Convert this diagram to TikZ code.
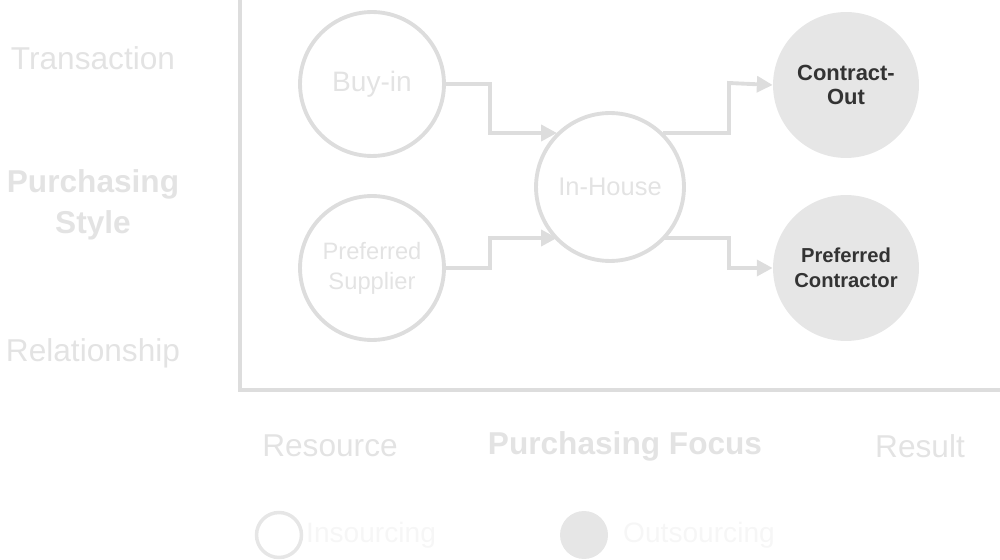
\documentclass[tikz,border=0pt]{standalone}
\usepackage{fontspec}
\setmainfont{Liberation Sans}
\usetikzlibrary{arrows.meta}
\definecolor{ln}{HTML}{DDDDDD}
\definecolor{fl}{HTML}{E6E6E6}
\definecolor{tx}{HTML}{E3E3E3}
\definecolor{lg}{HTML}{F6F6F6}
\begin{document}
\begin{tikzpicture}[x=0.02cm,y=-0.02cm,
  incirc/.style={circle,draw=ln,line width=2.2pt,minimum size=#1*0.04cm,inner sep=0pt,align=center,text=tx},
  outcirc/.style={circle,fill=fl,minimum size=#1*0.04cm,inner sep=0pt,align=center,text=black!80,font=\bfseries\fontsize{12.5}{14}\selectfont},
  conn/.style={draw=ln,line width=2.2pt,-{Triangle[length=9pt,width=9pt]}},
  axlab/.style={text=tx,font=\fontsize{18}{21}\selectfont}]
\useasboundingbox (0,0) rectangle (1000,560);
\draw[ln,line width=2.4pt] (240,0) -- (240,390) -- (1000,390);
\node[axlab] (t1) at (93,58) {Transaction};
\node[axlab,font=\bfseries\fontsize{18}{23}\selectfont,align=center] (t2) at (93,205) {Purchasing\\Style};
\node[axlab] (t3) at (93,353) {Relationship};
\node[axlab] (b1) at (330,446) {Resource};
\node[axlab,font=\bfseries\fontsize{18}{21}\selectfont] (b2) at (625,446) {Purchasing Focus};
\node[axlab] (b3) at (920,446) {Result};
\node[incirc=72,font=\fontsize{16}{19}\selectfont] (buy) at (372,84) {Buy-in};
\node[incirc=72,font=\fontsize{13.5}{17}\selectfont] (ps) at (372,268) {Preferred\\Supplier};
\node[incirc=74,font=\fontsize{14.5}{17}\selectfont] (ih) at (610,187) {In-House};
\node[outcirc=73] (co) at (846,85) {Contract-\\Out};
\node[outcirc=73,font=\bfseries\fontsize{11.5}{14}\selectfont] (pc) at (846,268) {Preferred\\Contractor};
\coordinate (ihA) at (557,133); \coordinate (ihB) at (557,238);
\coordinate (ihC) at (663,133); \coordinate (ihD) at (663,238);
\draw[conn] (buy.east) -- (490,84) -- (490,133) -- (ihA);
\draw[conn] (ps.east) -- (490,268) -- (490,238) -- (ihB);
\draw[conn] (ihC) -- (729,133) -- (729,83) -- (co.west);
\draw[conn] (ihD) -- (729,238) -- (729,268) -- (pc.west);
\node[circle,draw=fl,line width=2pt,minimum size=0.9cm,inner sep=0pt] (l1) at (279,535) {};
\node[anchor=west,text=lg,font=\fontsize{16}{19}\selectfont] (l1t) at (300,535) {Insourcing};
\node[circle,fill=fl,minimum size=0.96cm,inner sep=0pt] (l2) at (584,535) {};
\node[anchor=west,text=lg,font=\fontsize{16}{19}\selectfont] (l2t) at (617,535) {Outsourcing};
\end{tikzpicture}
\end{document}
